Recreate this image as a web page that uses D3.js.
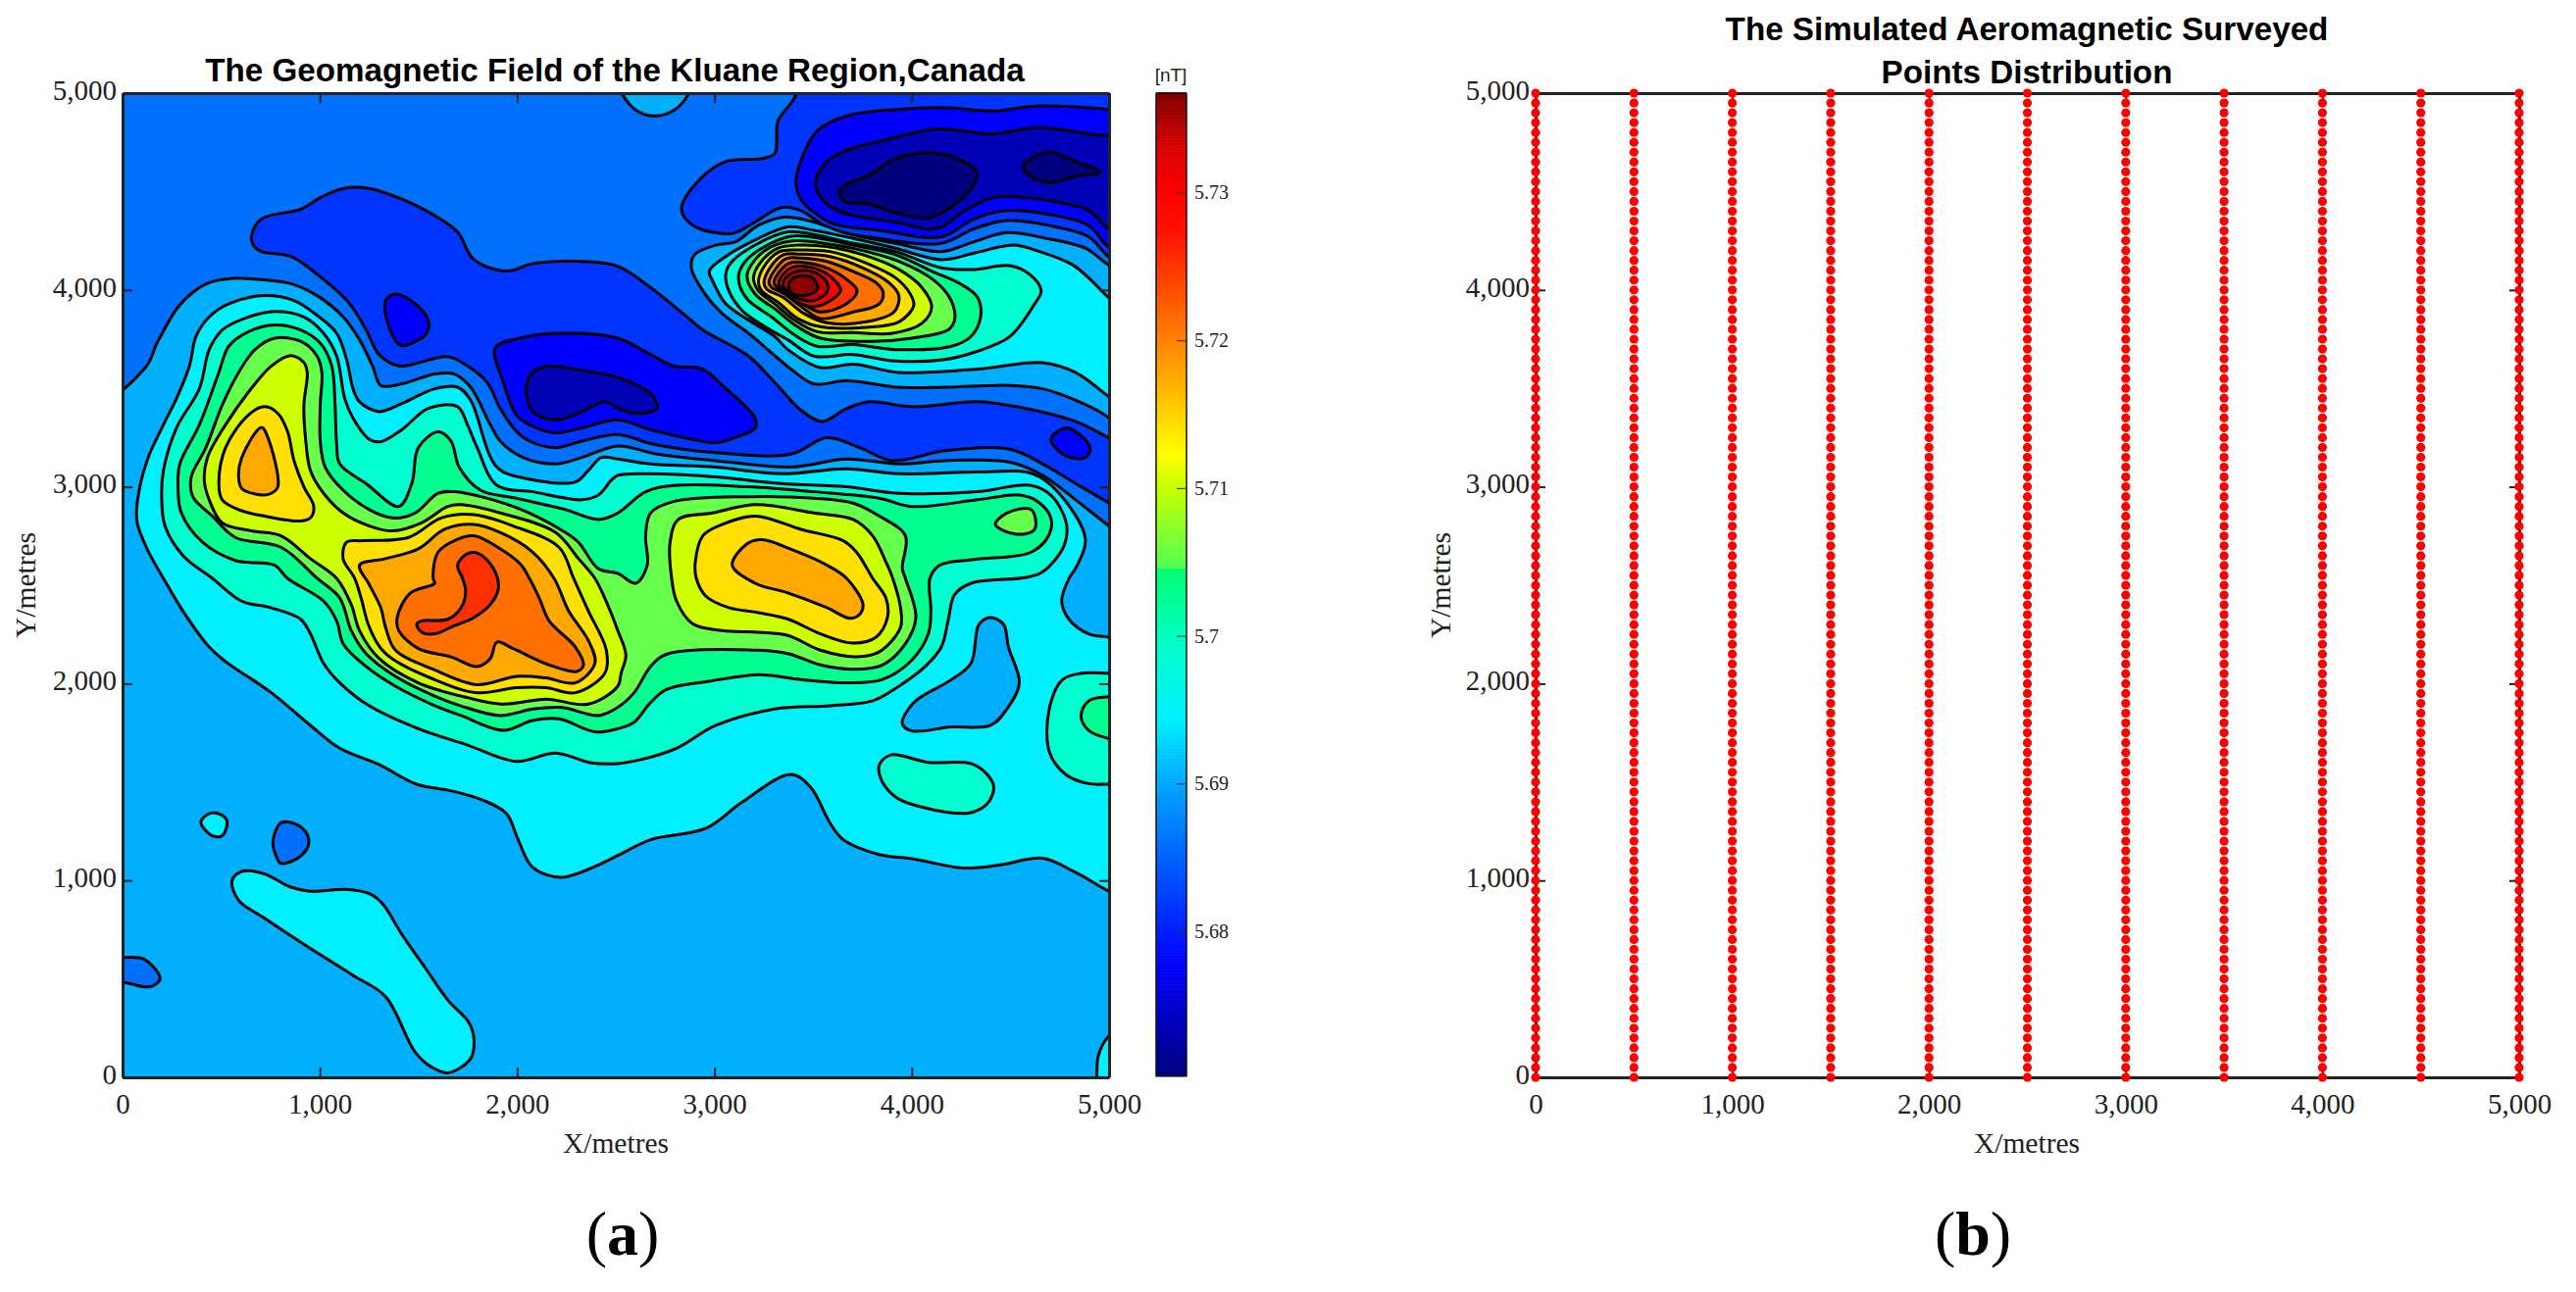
<!DOCTYPE html>
<html>
<head>
<meta charset="utf-8">
<script src="https://d3js.org/d3.v7.min.js"></script>
<style>
body { margin: 0; background: #fff; }
text { fill: #222; }
.tick text { font-family: "Liberation Serif", serif; font-size: 29px; }
.axis-label { font-family: "Liberation Serif", serif; font-size: 29.5px; }
.chart-title { font-family: "Liberation Sans", sans-serif; font-size: 33.2px; font-weight: bold; fill: #000; }
.panel-tag { font-family: "Liberation Serif", serif; font-size: 64px; fill: #000; }
</style>
</head>
<body>
<div id="chart"></div>
<script>
// nT bands of the filled contours, low to high
const bandLevels = [5.672, 5.676, 5.680, 5.684, 5.688, 5.692, 5.696, 5.700, 5.704, 5.708, 5.712, 5.716, 5.720, 5.724, 5.728, 5.732, 5.736];
const bandColors = ["#00007f", "#0000b8", "#0000ff", "#0034ff", "#0070ff", "#00b0ff", "#00f0ff", "#00ffd0", "#00ff90", "#66ff4c", "#ccff00", "#ffe000", "#ffa800", "#ff7000", "#ff3000", "#ff0000", "#c00000"];
const peakColor = "#8b0000";

const colorbarValues = [5.6702, 5.6777, 5.69, 5.6943, 5.70, 5.7044, 5.7046, 5.71, 5.7122, 5.72, 5.7275, 5.73, 5.733, 5.7367];
const colorbarColors = ["#000080", "#0000ff", "#00a8ff", "#00f0ff", "#00ffc0", "#00ff70", "#50ff50", "#c8ff00", "#ffff00", "#ff8000", "#ff1000", "#ff0000", "#d80000", "#800000"];
const colorbarTicks = [5.68, 5.69, 5.70, 5.71, 5.72, 5.73];

const axisTicks = [0, 1000, 2000, 3000, 4000, 5000];

// survey points of panel b, metres
const surveyLines = [0, 500, 1000, 1500, 2000, 2500, 3000, 3500, 4000, 4500, 5000];
const surveyStations = [0, 50, 100, 150, 200, 250, 300, 350, 400, 450, 500, 550, 600, 650, 700, 750, 800, 850, 900, 950,
  1000, 1050, 1100, 1150, 1200, 1250, 1300, 1350, 1400, 1450, 1500, 1550, 1600, 1650, 1700, 1750, 1800, 1850, 1900, 1950,
  2000, 2050, 2100, 2150, 2200, 2250, 2300, 2350, 2400, 2450, 2500, 2550, 2600, 2650, 2700, 2750, 2800, 2850, 2900, 2950,
  3000, 3050, 3100, 3150, 3200, 3250, 3300, 3350, 3400, 3450, 3500, 3550, 3600, 3650, 3700, 3750, 3800, 3850, 3900, 3950,
  4000, 4050, 4100, 4150, 4200, 4250, 4300, 4350, 4400, 4450, 4500, 4550, 4600, 4650, 4700, 4750, 4800, 4850, 4900, 4950, 5000];

// contours, [x, y] in metres; ones that leave the plot run past its edge
const north0070 = [[-200,3400],[116,3606],[174,3730],[281,3913],[356,3988],[439,4037],[555,4059],[720,4051],[853,4032],[986,3971],[1118,3863],[1201,3747],[1267,3614],[1309,3515],[1416,3523],[1582,3573],[1681,3573],[1764,3506],[1864,3315],[1914,3232],[2029,3149],[2195,3116],[2328,3149],[2510,3207],[2709,3166],[3007,3133],[3388,3100],[3670,3141],[3935,3116],[4167,3133],[4498,3125],[4664,3058],[4830,2934],[5000,2801],[5200,2650],[5400,5400],[-400,5400]];
const west0034 = [[654,4278],[704,4361],[903,4411],[1002,4469],[1118,4516],[1251,4516],[1416,4461],[1582,4378],[1698,4295],[1781,4154],[1947,4096],[2079,4134],[2344,4145],[2510,4120],[2676,4013],[2841,3880],[2941,3797],[3173,3664],[3305,3531],[3438,3390],[3546,3332],[3670,3398],[3786,3432],[4001,3407],[4333,3432],[4581,3398],[4830,3332],[5000,3249],[5200,3150],[5200,2800],[5000,2917],[4830,3017],[4664,3116],[4498,3191],[4167,3183],[3902,3133],[3736,3199],[3570,3249],[3388,3166],[3007,3174],[2692,3216],[2510,3266],[2328,3232],[2195,3199],[2062,3232],[1996,3282],[1914,3398],[1847,3531],[1748,3614],[1648,3661],[1400,3614],[1300,3672],[1234,3797],[1151,3930],[986,4079],[853,4170],[704,4195],[662,4228]];
const west00ff = [[1889,3706],[2013,3755],[2195,3780],[2510,3755],[2676,3672],[2792,3614],[2941,3598],[3040,3515],[3206,3349],[3206,3299],[3123,3257],[3007,3224],[2891,3241],[2676,3290],[2510,3340],[2328,3299],[2195,3274],[2079,3307],[1996,3365],[1930,3531]];
const west00b8 = [[2046,3506],[2079,3581],[2162,3614],[2295,3598],[2510,3556],[2609,3515],[2684,3465],[2709,3398],[2601,3373],[2510,3398],[2444,3432],[2328,3382],[2195,3340],[2079,3382]];
const spot00ffA = [[1333,3946],[1383,3979],[1483,3930],[1549,3847],[1541,3780],[1466,3730],[1408,3719],[1350,3813]];
const spot00ffB = [[4705,3241],[4788,3299],[4904,3199],[4880,3149],[4780,3158]];
const east0034 = [[3413,4992],[3322,4859],[3305,4693],[3239,4668],[3057,4652],[2924,4560],[2833,4411],[2891,4328],[3090,4287],[3206,4345],[3338,4419],[3438,4403],[3587,4311],[3836,4262],[4150,4237],[4316,4311],[4482,4353],[4730,4320],[4896,4270],[4995,4170],[5200,4000],[5400,5400],[3480,5400]];
const east00ff = [[3521,4809],[3670,4884],[3918,4917],[4167,4926],[4416,4909],[4631,4934],[5000,4917],[5200,4890],[5200,4100],[4995,4220],[4896,4328],[4730,4378],[4482,4403],[4316,4361],[4150,4270],[3836,4303],[3604,4336],[3504,4394],[3438,4461],[3413,4544],[3446,4677]];
const east00b8 = [[5000,4784],[4631,4826],[4416,4793],[4134,4818],[3918,4776],[3587,4668],[3512,4544],[3570,4436],[3703,4378],[3918,4345],[4084,4308],[4150,4320],[4283,4411],[4416,4469],[4648,4461],[4896,4403],[4995,4311],[5200,4200],[5200,4800]];
const east007fA = [[3637,4511],[3786,4585],[3918,4668],[4084,4697],[4250,4660],[4333,4594],[4283,4494],[4184,4411],[4084,4365],[3918,4394],[3786,4436],[3653,4453]];
const east007fB = [[4565,4635],[4697,4701],[4830,4652],[4954,4599],[4830,4577],[4697,4544],[4581,4594]];
const top00b0 = [[2440,5300],[2530,5000],[2609,4909],[2701,4884],[2800,4917],[2866,4992],[2950,5300]];

const peak00b0 = [[2883,4112],[2899,4179],[3007,4228],[3107,4245],[3223,4328],[3355,4370],[3504,4345],[3670,4287],[3918,4237],[4150,4195],[4316,4245],[4482,4291],[4681,4262],[4880,4212],[4995,4129],[5200,4000],[5200,3100],[5000,3349],[4830,3440],[4664,3498],[4498,3515],[4167,3506],[3935,3506],[3670,3539],[3504,3523],[3388,3598],[3289,3681],[3173,3780],[3040,3880],[2941,3996]];
const peak00f0 = [[2974,4096],[3057,4170],[3223,4262],[3372,4320],[3504,4303],[3703,4262],[3918,4212],[4150,4154],[4316,4187],[4515,4228],[4648,4195],[4813,4129],[4913,4046],[4995,3963],[5200,3800],[5200,3300],[5000,3456],[4830,3581],[4664,3631],[4333,3598],[3935,3581],[3703,3623],[3537,3606],[3372,3697],[3305,3764],[3173,3847],[3057,3930],[2991,4046]];
const peak00d0 = [[3057,4079],[3082,4137],[3206,4228],[3372,4295],[3504,4282],[3670,4245],[3918,4195],[4150,4112],[4316,4104],[4498,4124],[4598,4079],[4656,3996],[4623,3930],[4498,3764],[4333,3689],[4167,3647],[3918,3639],[3703,3672],[3504,3664],[3372,3747],[3256,3813],[3140,3896],[3073,3996]];
const peak0090 = [[3123,4079],[3156,4145],[3239,4212],[3388,4273],[3537,4262],[3703,4228],[3918,4179],[4101,4096],[4250,4029],[4333,3963],[4349,3863],[4300,3764],[4200,3714],[3918,3697],[3703,3722],[3521,3714],[3405,3772],[3289,3863],[3173,3946],[3131,4013]];
const peak66ff = [[3165,4071],[3206,4154],[3289,4220],[3413,4250],[3554,4237],[3736,4204],[3935,4145],[4117,4046],[4200,3946],[4217,3847],[4184,3797],[4001,3755],[3803,3739],[3537,3755],[3421,3813],[3305,3905],[3206,3979]];
const peakccff = [[3198,4062],[3231,4137],[3322,4212],[3430,4228],[3570,4220],[3753,4179],[3935,4104],[4051,4013],[4101,3913],[4051,3830],[3902,3780],[3703,3783],[3521,3788],[3405,3847],[3305,3930],[3222,3996]];
const peakffe0 = [[3223,4037],[3247,4112],[3330,4195],[3430,4203],[3587,4195],[3769,4137],[3918,4062],[3993,3979],[4010,3921],[3935,3838],[3769,3810],[3537,3813],[3421,3855],[3322,3938],[3239,3996]];
const peakffa8 = [[3251,4037],[3281,4112],[3347,4178],[3438,4182],[3587,4170],[3753,4112],[3885,4037],[3935,3971],[3910,3888],[3769,3838],[3570,3833],[3454,3880],[3347,3963],[3264,4004]];
const peakff70 = [[3276,4037],[3302,4096],[3363,4159],[3438,4162],[3570,4145],[3720,4087],[3819,4037],[3855,3988],[3836,3930],[3703,3888],[3537,3855],[3454,3905],[3355,3979],[3289,4013]];
const peakff30 = [[3302,4037],[3325,4087],[3380,4137],[3446,4140],[3570,4112],[3670,4054],[3723,3996],[3670,3930],[3537,3888],[3463,3921],[3372,3979],[3317,4013]];
const peakff00 = [[3325,4033],[3355,4087],[3396,4115],[3454,4120],[3546,4096],[3612,4046],[3640,4000],[3587,3946],[3504,3916],[3438,3930],[3363,3979],[3334,4013]];
const peakc000 = [[3347,4029],[3380,4079],[3438,4099],[3512,4087],[3570,4037],[3570,3988],[3504,3946],[3430,3954],[3372,3988]];
const peak8b00 = [[3375,4021],[3396,4059],[3446,4072],[3496,4062],[3524,4013],[3504,3988],[3438,3971],[3388,3988]];

const main00f0 = [[5000,945],[4830,1041],[4664,1113],[4449,1079],[4266,1063],[4001,1111],[3836,1132],[3653,1207],[3587,1290],[3488,1473],[3388,1539],[3140,1398],[2957,1265],[2676,1207],[2510,1127],[2361,1057],[2220,1016],[2079,1066],[2005,1207],[1946,1340],[1831,1406],[1665,1456],[1491,1489],[1300,1589],[1101,1672],[952,1788],[754,1954],[522,2112],[439,2186],[306,2369],[207,2535],[124,2685],[74,2817],[74,2917],[124,3133],[207,3315],[273,3448],[339,3614],[372,3764],[439,3863],[538,3930],[720,3971],[869,3946],[986,3871],[1085,3780],[1135,3647],[1168,3498],[1201,3432],[1300,3382],[1416,3423],[1582,3498],[1698,3506],[1764,3440],[1897,3100],[2046,3042],[2295,3025],[2361,3083],[2427,3149],[2510,3141],[2676,3116],[3007,3100],[3338,3066],[3670,3091],[3935,3066],[4333,3075],[4614,3066],[4747,2967],[4880,2734],[4830,2585],[4797,2535],[4760,2419],[4797,2327],[4896,2253],[5000,2236],[5200,2200],[5200,850]];
const main00d0 = [[2510,3058],[2676,3066],[3007,3050],[3338,3017],[3670,3000],[3935,2967],[4333,2975],[4598,3008],[4705,2958],[4783,2817],[4772,2701],[4664,2568],[4581,2540],[4300,2510],[4217,2452],[4184,2319],[4150,2186],[4068,2087],[3935,1987],[3803,1913],[3587,1888],[3305,1871],[3007,1788],[2808,1672],[2626,1614],[2510,1594],[2377,1597],[2195,1647],[1996,1605],[1748,1688],[1499,1771],[1251,1887],[1101,2004],[1019,2103],[952,2253],[903,2327],[754,2385],[604,2419],[455,2535],[306,2651],[215,2801],[198,2950],[207,3083],[273,3299],[389,3498],[439,3697],[505,3797],[638,3863],[770,3891],[919,3863],[1019,3780],[1085,3664],[1126,3448],[1168,3349],[1251,3241],[1309,3229],[1416,3291],[1549,3398],[1698,3407],[1748,3315],[1797,3199],[1897,3008],[2079,2975],[2328,2934],[2411,2958],[2477,3033]];
const main0090 = [[2510,2867],[2651,2975],[2808,3008],[3173,3000],[3504,2975],[3836,2942],[4001,2900],[4333,2934],[4548,2958],[4639,2925],[4705,2842],[4697,2759],[4606,2668],[4316,2631],[4142,2602],[4092,2535],[4097,2369],[4084,2253],[4001,2120],[3852,2021],[3670,2004],[3438,2021],[3223,2045],[2974,2012],[2759,1971],[2676,1904],[2593,1804],[2510,1771],[2394,1755],[2212,1821],[2079,1813],[1930,1763],[1715,1838],[1565,1896],[1383,1987],[1234,2087],[1118,2203],[1085,2319],[1019,2419],[836,2535],[770,2602],[571,2626],[406,2718],[298,2867],[281,3000],[290,3116],[389,3315],[488,3581],[538,3714],[638,3788],[770,3822],[903,3797],[1002,3730],[1060,3614],[1077,3415],[1085,3216],[1101,3116],[1234,3017],[1400,2900],[1466,3017],[1499,3199],[1599,3279],[1665,3232],[1706,3100],[1814,2983],[1996,2942],[2245,2884],[2411,2834]];
const main66ff = [[770,3755],[903,3739],[986,3664],[1010,3581],[1002,3415],[1002,3232],[1027,3100],[1118,2983],[1251,2884],[1367,2842],[1483,2867],[1599,2967],[1681,2975],[1980,2900],[2245,2768],[2311,2718],[2411,2585],[2510,2560],[2601,2510],[2659,2602],[2651,2751],[2676,2867],[2792,2925],[3173,2950],[3504,2942],[3703,2917],[3836,2851],[3968,2751],[3952,2585],[3968,2535],[4021,2336],[3968,2203],[3852,2095],[3703,2073],[3537,2095],[3372,2153],[3223,2170],[2759,2150],[2676,2087],[2593,1954],[2510,1880],[2411,1838],[2228,1879],[2079,1871],[1914,1838],[1715,1887],[1582,1937],[1383,2037],[1234,2153],[1159,2269],[1101,2435],[986,2535],[803,2693],[571,2743],[455,2851],[356,2950],[348,3050],[422,3199],[505,3415],[588,3581],[671,3697]];
const mainccff = [[853,3667],[919,3631],[936,3581],[919,3415],[927,3249],[952,3083],[1019,2967],[1118,2867],[1251,2801],[1367,2776],[1516,2817],[1648,2900],[1715,2909],[1914,2867],[2195,2768],[2311,2635],[2394,2535],[2444,2435],[2510,2270],[2551,2145],[2527,2054],[2510,1987],[2361,1896],[2146,1921],[1930,1896],[1748,1929],[1499,2004],[1300,2128],[1201,2269],[1159,2402],[1085,2535],[952,2635],[803,2751],[654,2776],[505,2817],[439,2934],[414,3033],[430,3149],[522,3315],[638,3481],[754,3614]];
const eastccff = [[2775,2718],[2817,2834],[2991,2867],[3206,2909],[3504,2867],[3703,2834],[3802,2751],[3869,2618],[3902,2540],[3943,2386],[3943,2286],[3836,2162],[3720,2137],[3537,2170],[3372,2245],[3223,2261],[3040,2270],[2891,2303],[2808,2419],[2783,2535]];
const eastffe0 = [[2903,2618],[2941,2751],[3040,2809],[3206,2851],[3438,2784],[3653,2726],[3720,2668],[3802,2535],[3869,2435],[3877,2336],[3819,2236],[3703,2206],[3537,2253],[3372,2328],[3223,2361],[3073,2386],[2957,2444],[2908,2535]];
const eastffa8 = [[3090,2602],[3165,2710],[3239,2731],[3405,2676],[3570,2602],[3670,2535],[3753,2402],[3736,2352],[3686,2332],[3570,2386],[3372,2461],[3206,2510]];
const leftffe0 = [[488,3017],[522,3199],[638,3365],[720,3407],[787,3373],[836,3282],[869,3133],[919,3000],[969,2900],[952,2842],[903,2826],[720,2851],[588,2884],[505,2934]];
const leftffa8 = [[588,3050],[604,3149],[704,3302],[737,3249],[787,3000],[754,2967],[704,2958],[604,2992]];
const midffe0 = [[1118,2635],[1135,2718],[1217,2726],[1449,2743],[1615,2842],[1781,2859],[1980,2801],[2212,2693],[2286,2535],[2361,2369],[2452,2170],[2444,2053],[2295,1954],[2146,1979],[1996,1979],[1797,1954],[1582,2020],[1333,2153],[1251,2286],[1209,2435],[1176,2535]];
const midffa8 = [[1201,2602],[1333,2635],[1499,2685],[1632,2784],[1781,2809],[1914,2768],[2079,2668],[2187,2535],[2261,2369],[2361,2219],[2394,2103],[2295,2004],[2146,2029],[1996,2037],[1797,1995],[1582,2070],[1383,2170],[1333,2286],[1309,2385],[1251,2502]];
const midff70 = [[1599,2668],[1698,2734],[1781,2751],[1914,2685],[2021,2602],[2062,2535],[2112,2435],[2162,2319],[2295,2186],[2336,2095],[2303,2062],[2162,2095],[1980,2178],[1897,2211],[1864,2128],[1797,2087],[1665,2136],[1499,2178],[1400,2269],[1392,2336],[1458,2460],[1582,2510],[1574,2535]];
const midff30 = [[1698,2602],[1748,2660],[1806,2660],[1880,2585],[1905,2485],[1864,2402],[1781,2336],[1681,2294],[1582,2253],[1516,2261],[1491,2302],[1516,2319],[1648,2327],[1715,2385],[1739,2468],[1723,2535]];

const south00f0 = [[555,999],[604,1046],[720,1033],[853,966],[952,945],[1135,955],[1251,933],[1317,883],[1416,725],[1532,559],[1648,393],[1756,277],[1781,194],[1764,95],[1648,23],[1565,53],[1483,128],[1333,410],[1168,518],[919,676],[720,808],[588,900]];
const dot00f0 = [[397,1298],[447,1343],[505,1331],[530,1298],[505,1228],[452,1228]];
const dot0070 = [[762,1199],[803,1293],[861,1293],[927,1248],[944,1190],[903,1124],[803,1087],[778,1124]];
const edge0070 = [[-150,600],[0,609],[108,601],[190,501],[149,463],[108,460],[0,485],[-150,500]];
const lake00d0 = [[3836,1589],[3894,1638],[4084,1600],[4300,1594],[4382,1539],[4416,1472],[4382,1389],[4300,1345],[4167,1348],[3935,1414],[3869,1472],[3836,1539]];
const lake00b0 = [[3952,1796],[4010,1904],[4200,2020],[4300,2103],[4341,2302],[4399,2336],[4465,2302],[4490,2186],[4545,2004],[4482,1871],[4399,1788],[4200,1780],[4001,1760]];
const edge00d0 = [[5200,2053],[5000,2053],[4863,2053],[4764,2020],[4697,1871],[4697,1655],[4780,1539],[4896,1492],[5000,1489],[5200,1489]];
const edge0090 = [[5200,1950],[5000,1934],[4896,1912],[4858,1838],[4896,1763],[5000,1721],[5200,1700]];
const corner00f0 = [[5150,300],[5000,211],[4946,111],[4938,0],[4930,-200],[5300,-200]];
const spot66ff = [[4424,2809],[4482,2867],[4606,2884],[4623,2784],[4531,2759]];

// paint order is outer to inner, second value indexes bandColors (-1 = peak colour)
const contourOrder = [
  [north0070, 4], [west0034, 3], [west00ff, 2], [west00b8, 1], [spot00ffA, 2], [spot00ffB, 2],
  [east0034, 3], [east00ff, 2], [east00b8, 1], [east007fA, 0], [east007fB, 0], [top00b0, 5],
  [peak00b0, 5], [peak00f0, 6], [peak00d0, 7], [peak0090, 8], [peak66ff, 9], [peakccff, 10], [peakffe0, 11],
  [peakffa8, 12], [peakff70, 13], [peakff30, 14], [peakff00, 15], [peakc000, 16], [peak8b00, -1],
  [main00f0, 6], [main00d0, 7], [main0090, 8], [spot66ff, 9], [main66ff, 9], [mainccff, 10], [eastccff, 10],
  [eastffe0, 11], [eastffa8, 12], [leftffe0, 11], [leftffa8, 12], [midffe0, 11], [midffa8, 12], [midff70, 13], [midff30, 14],
  [south00f0, 6], [dot00f0, 6], [dot0070, 4], [edge0070, 4], [lake00d0, 7], [lake00b0, 5], [edge00d0, 7], [edge0090, 8], [corner00f0, 6]
];

const svg = d3.select("#chart").append("svg")
  .attr("width", 2627)
  .attr("height", 1318)
  .style("display", "block");

const plotTop = 95, plotBottom = 1099;
const y = d3.scaleLinear().domain([0, 5000]).range([plotBottom, plotTop]);
const xA = d3.scaleLinear().domain([0, 5000]).range([125, 1131]);
const xB = d3.scaleLinear().domain([0, 5000]).range([1566, 2569]);

const tickFmt = d3.format(",");

function drawAxes(x) {
  const left = x.range()[0], right = x.range()[1];
  const axes = [
    [d3.axisBottom(x).tickSize(-10).tickPadding(16), 0, plotBottom],
    [d3.axisTop(x).tickSize(-10).tickFormat(""), 0, plotTop],
    [d3.axisLeft(y).tickSize(-10).tickPadding(6), left, 0],
    [d3.axisRight(y).tickSize(-10).tickFormat(""), right, 0]
  ];
  axes.forEach(function(a, i) {
    const ax = a[0].tickValues(axisTicks).tickSizeOuter(0);
    if (i == 0 || i == 2) ax.tickFormat(tickFmt);
    const g = svg.append("g")
      .attr("transform", "translate(" + a[1] + "," + a[2] + ")")
      .call(ax);
    g.select(".domain").attr("stroke", "#222").attr("stroke-width", 3);
    g.selectAll(".tick line").attr("stroke", "#222").attr("stroke-width", 2);
    if (i == 2) g.selectAll(".tick text").attr("dy", "0.22em");
  });
}

function drawTitles(xCentre, yLabelX) {
  svg.append("text").attr("class", "axis-label")
    .attr("x", xCentre).attr("y", 1176).attr("text-anchor", "middle").text("X/metres");
  svg.append("text").attr("class", "axis-label")
    .attr("transform", "translate(" + yLabelX + ",597) rotate(-90)")
    .attr("text-anchor", "middle").text("Y/metres");
}

// panel a: filled contours
svg.append("clipPath").attr("id", "field-clip").append("rect")
  .attr("x", xA(0)).attr("y", y(5000))
  .attr("width", xA(5000) - xA(0)).attr("height", y(0) - y(5000));

const contourLine = d3.line()
  .x(function(d) { return xA(d[0]); })
  .y(function(d) { return y(d[1]); })
  .curve(d3.curveCatmullRomClosed.alpha(0.5));

const field = svg.append("g").attr("clip-path", "url(#field-clip)");
field.append("rect")
  .attr("x", xA(0)).attr("y", y(5000))
  .attr("width", xA(5000) - xA(0)).attr("height", y(0) - y(5000))
  .attr("fill", bandColors[5]);

field.selectAll("path")
  .data(contourOrder)
  .enter().append("path")
    .attr("d", function(d) { return contourLine(d[0]); })
    .attr("fill", function(d) { return d[1] < 0 ? peakColor : bandColors[d[1]]; })
    .attr("stroke", "#000")
    .attr("stroke-width", 3)
    .attr("stroke-linejoin", "round");

drawAxes(xA);
drawTitles(628, 36);

svg.append("text").attr("class", "chart-title")
  .attr("x", 627).attr("y", 83).attr("text-anchor", "middle")
  .text("The Geomagnetic Field of the Kluane Region,Canada");

// colour bar
const cbY = d3.scaleLinear().domain([5.68, 5.73]).range([950, 196.5]);
const cbColor = d3.scaleLinear().domain(colorbarValues).range(colorbarColors);
const cbSteps = d3.range(5.6702, 5.7367, 0.0002);

svg.append("g").selectAll("rect")
  .data(cbSteps)
  .enter().append("rect")
    .attr("x", 1179)
    .attr("y", function(d) { return cbY(d + 0.0002); })
    .attr("width", 31)
    .attr("height", cbY(5.68) - cbY(5.6802) + 0.6)
    .attr("fill", function(d) { return cbColor(d); });

svg.append("rect")
  .attr("x", 1179).attr("y", cbY(5.7367))
  .attr("width", 31).attr("height", cbY(5.6702) - cbY(5.7367))
  .attr("fill", "none").attr("stroke", "#111").attr("stroke-width", 1.5);

const cbAxis = svg.append("g")
  .attr("transform", "translate(1210,0)")
  .call(d3.axisRight(cbY).tickValues(colorbarTicks).tickSize(-10).tickPadding(8).tickSizeOuter(0).tickFormat(d3.format(".2f")));
cbAxis.select(".domain").remove();
cbAxis.selectAll(".tick line").attr("stroke", "#333").attr("stroke-width", 1);
cbAxis.selectAll(".tick text").style("font-size", "20px").text(function(d) { return d == 5.7 ? "5.7" : d3.format(".2f")(d); });

svg.append("text")
  .attr("x", 1194).attr("y", 83).attr("text-anchor", "middle")
  .style("font-family", "'Liberation Sans', sans-serif").style("font-size", "19px")
  .text("[nT]");

// panel b: survey points
drawAxes(xB);
drawTitles(2067, 1479);

const surveyPoints = [];
surveyLines.forEach(function(lx) {
  surveyStations.forEach(function(sy) { surveyPoints.push([lx, sy]); });
});

svg.append("g").selectAll("circle")
  .data(surveyPoints)
  .enter().append("circle")
    .attr("cx", function(d) { return xB(d[0]); })
    .attr("cy", function(d) { return y(d[1]); })
    .attr("r", 4.6)
    .attr("fill", "#ff0000");

svg.append("text").attr("class", "chart-title")
  .attr("x", 2067).attr("y", 41).attr("text-anchor", "middle")
  .text("The Simulated Aeromagnetic Surveyed");
svg.append("text").attr("class", "chart-title")
  .attr("x", 2067).attr("y", 85).attr("text-anchor", "middle")
  .text("Points Distribution");

// panel tags
[["a", 635], ["b", 2012]].forEach(function(t) {
  const tag = svg.append("text").attr("class", "panel-tag")
    .attr("x", t[1]).attr("y", 1280).attr("text-anchor", "middle");
  tag.append("tspan").text("(");
  tag.append("tspan").attr("font-weight", "bold").text(t[0]);
  tag.append("tspan").text(")");
});
</script>
</body>
</html>
